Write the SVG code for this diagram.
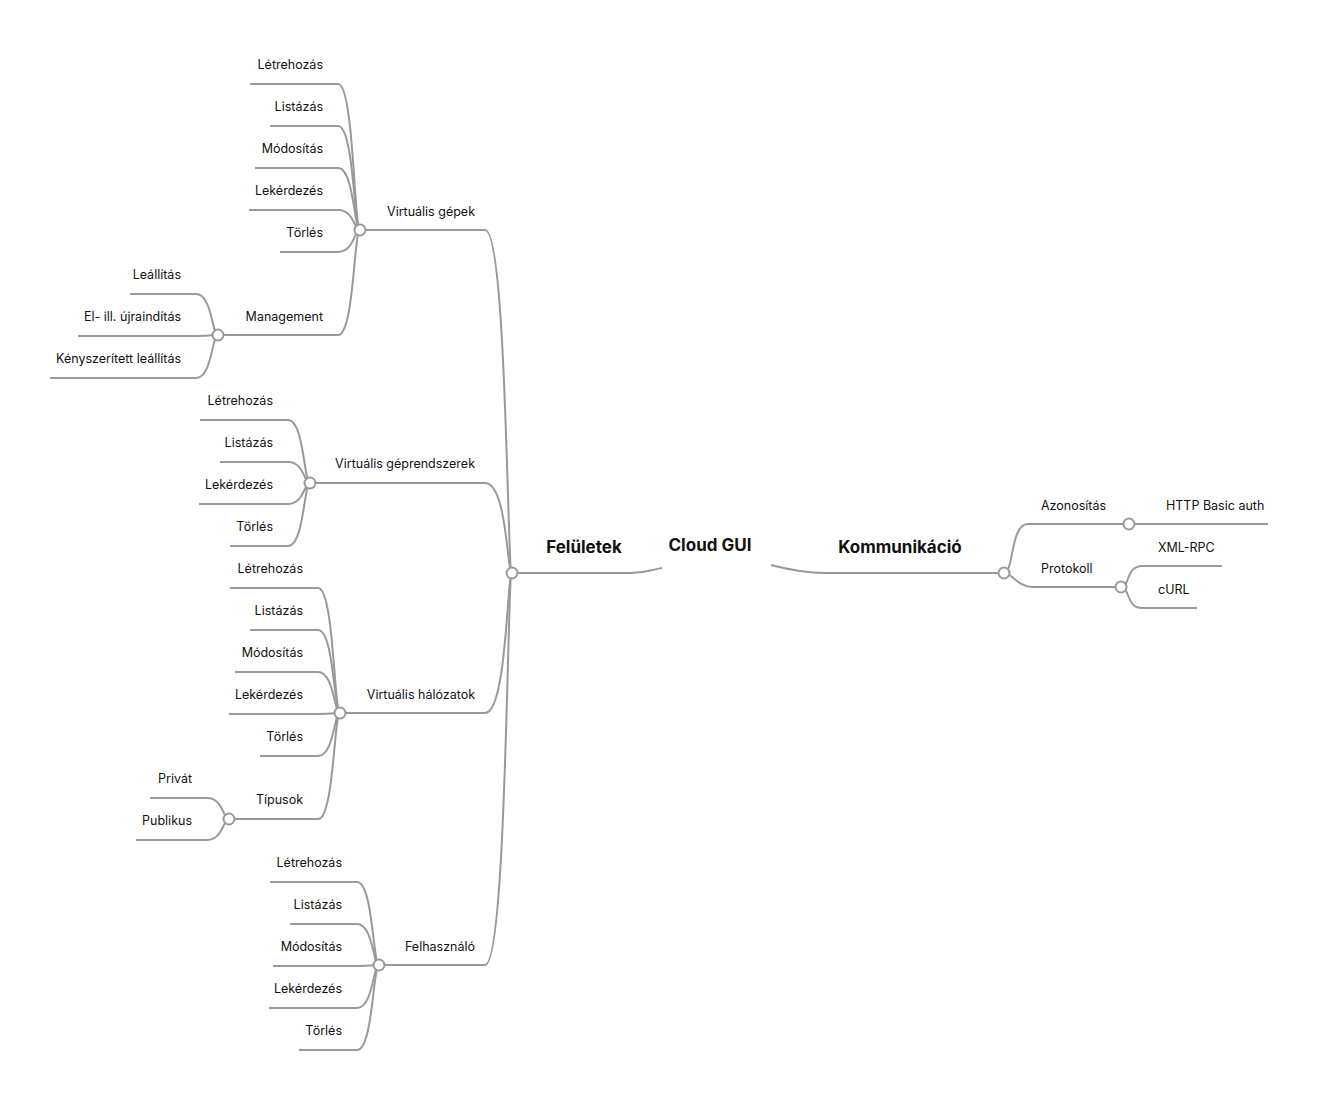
<svg xmlns="http://www.w3.org/2000/svg" width="1318" height="1098" viewBox="0 0 1318 1098">
<style>
.c path{fill:none;stroke:#999;stroke-width:2}
.n circle{fill:#fff;stroke:#999;stroke-width:2}
text{font-family:Inter,"Noto Sans","Liberation Sans",sans-serif;font-size:12.5px;fill:#111}
.e{text-anchor:end}
.b{font-size:17px;font-weight:bold;text-anchor:middle}
</style>
<rect width="1318" height="1098" fill="#fff"/>
<g id="connectors" class="c">
<path d="M512 573 H630 C645 573 650 570 662 568"/>
<path d="M771 565 C790 570 805 573 825 573 H1004"/>
<path d="M360 230 H485 C507 230 507 573 512 573"/>
<path d="M310 483 H485 C507 483 507 573 512 573"/>
<path d="M340 713 H485 C507 713 507 573 512 573"/>
<path d="M379 965 H485 C507 965 507 573 512 573"/>
<path d="M250 84 H338 C354 84 354 230 360 230"/>
<path d="M270 126 H338 C354 126 354 230 360 230"/>
<path d="M255 168 H338 C354 168 354 230 360 230"/>
<path d="M249 210 H338 C354 210 354 230 360 230"/>
<path d="M280 252 H338 C354 252 354 230 360 230"/>
<path d="M218 335 H338 C354 335 354 230 360 230"/>
<path d="M130 294 H196 C212 294 212 335 218 335"/>
<path d="M78 336 H196 C212 336 212 335 218 335"/>
<path d="M50 378 H196 C212 378 212 335 218 335"/>
<path d="M200 420 H288 C304 420 304 483 310 483"/>
<path d="M220 462 H288 C304 462 304 483 310 483"/>
<path d="M199 504 H288 C304 504 304 483 310 483"/>
<path d="M230 546 H288 C304 546 304 483 310 483"/>
<path d="M230 588 H318 C334 588 334 713 340 713"/>
<path d="M250 630 H318 C334 630 334 713 340 713"/>
<path d="M235 672 H318 C334 672 334 713 340 713"/>
<path d="M229 714 H318 C334 714 334 713 340 713"/>
<path d="M260 756 H318 C334 756 334 713 340 713"/>
<path d="M229 819 H318 C334 819 334 713 340 713"/>
<path d="M150 798 H207 C223 798 223 819 229 819"/>
<path d="M136 840 H207 C223 840 223 819 229 819"/>
<path d="M270 882 H357 C373 882 373 965 379 965"/>
<path d="M290 924 H357 C373 924 373 965 379 965"/>
<path d="M273 966 H357 C373 966 373 965 379 965"/>
<path d="M269 1008 H357 C373 1008 373 965 379 965"/>
<path d="M299 1050 H357 C373 1050 373 965 379 965"/>
<path d="M1004 573 C1014 573 1010 524 1028 524 H1129"/>
<path d="M1004 573 C1012 573 1018 587 1032 587 H1121"/>
<path d="M1129 524 H1268"/>
<path d="M1121 587 C1130 587 1126 566 1142 566 H1222"/>
<path d="M1121 587 C1130 587 1126 608 1142 608 H1197"/>
</g>
<g id="root" class="n"><text x="710" y="551" class="b">Cloud GUI</text></g>
<g id="feluletek" class="n"><text x="584" y="553" class="b">Felületek</text><circle cx="512" cy="573" r="5.5"/></g>
<g id="komm" class="n"><text x="900" y="553" class="b">Kommunikáció</text><circle cx="1004" cy="573" r="5.5"/></g>
<g id="vg" class="n"><text x="475" y="216" class="e">Virtuális gépek</text><circle cx="360" cy="230" r="5.5"/></g>
<g id="vg1"><text x="323" y="69" class="e">Létrehozás</text></g>
<g id="vg2"><text x="323" y="111" class="e">Listázás</text></g>
<g id="vg3"><text x="323" y="153" class="e">Módosítás</text></g>
<g id="vg4"><text x="323" y="195" class="e">Lekérdezés</text></g>
<g id="vg5"><text x="323" y="237" class="e">Törlés</text></g>
<g id="mgmt" class="n"><text x="323" y="321" class="e">Management</text><circle cx="218" cy="335" r="5.5"/></g>
<g id="m1"><text x="181" y="279" class="e">Leállítás</text></g>
<g id="m2"><text x="181" y="321" class="e">El- ill. újraindítás</text></g>
<g id="m3"><text x="181" y="363" class="e">Kényszerített leállítás</text></g>
<g id="vgr" class="n"><text x="475" y="468" class="e">Virtuális géprendszerek</text><circle cx="310" cy="483" r="5.5"/></g>
<g id="vgr1"><text x="273" y="405" class="e">Létrehozás</text></g>
<g id="vgr2"><text x="273" y="447" class="e">Listázás</text></g>
<g id="vgr3"><text x="273" y="489" class="e">Lekérdezés</text></g>
<g id="vgr4"><text x="273" y="531" class="e">Törlés</text></g>
<g id="vh" class="n"><text x="475" y="699" class="e">Virtuális hálózatok</text><circle cx="340" cy="713" r="5.5"/></g>
<g id="vh1"><text x="303" y="573" class="e">Létrehozás</text></g>
<g id="vh2"><text x="303" y="615" class="e">Listázás</text></g>
<g id="vh3"><text x="303" y="657" class="e">Módosítás</text></g>
<g id="vh4"><text x="303" y="699" class="e">Lekérdezés</text></g>
<g id="vh5"><text x="303" y="741" class="e">Törlés</text></g>
<g id="tip" class="n"><text x="303" y="804" class="e">Típusok</text><circle cx="229" cy="819" r="5.5"/></g>
<g id="t1"><text x="192" y="783" class="e">Privát</text></g>
<g id="t2"><text x="192" y="825" class="e">Publikus</text></g>
<g id="fh" class="n"><text x="475" y="951" class="e">Felhasználó</text><circle cx="379" cy="965" r="5.5"/></g>
<g id="fh1"><text x="342" y="867" class="e">Létrehozás</text></g>
<g id="fh2"><text x="342" y="909" class="e">Listázás</text></g>
<g id="fh3"><text x="342" y="951" class="e">Módosítás</text></g>
<g id="fh4"><text x="342" y="993" class="e">Lekérdezés</text></g>
<g id="fh5"><text x="342" y="1035" class="e">Törlés</text></g>
<g id="azon" class="n"><text x="1041" y="510">Azonosítás</text><circle cx="1129" cy="524" r="5.5"/></g>
<g id="http"><text x="1166" y="510">HTTP Basic auth</text></g>
<g id="prot" class="n"><text x="1041" y="573">Protokoll</text><circle cx="1121" cy="587" r="5.5"/></g>
<g id="xml"><text x="1158" y="552">XML-RPC</text></g>
<g id="curl"><text x="1158" y="594">cURL</text></g>
</svg>
